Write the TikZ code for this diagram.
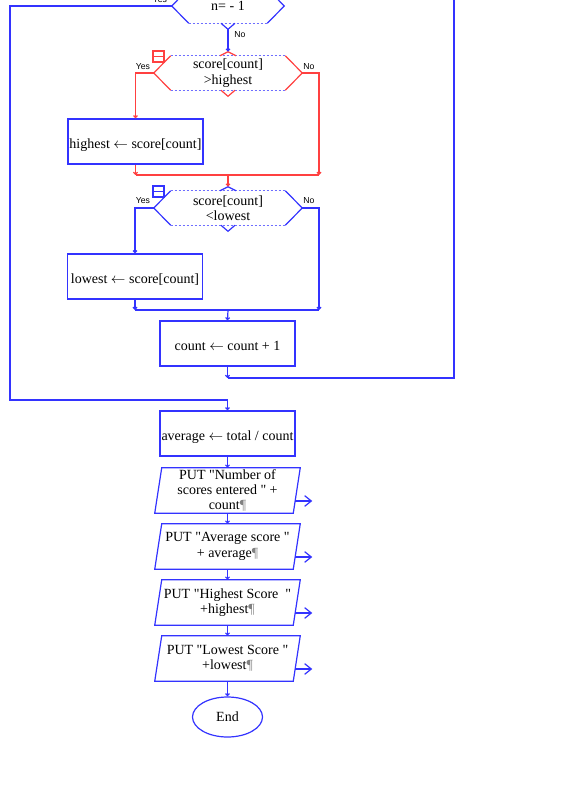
\documentclass[tikz,border=0pt]{standalone}
\usepackage{fontspec}
\setmainfont{Liberation Serif}
\newfontfamily\lblfont{Liberation Sans}
\usetikzlibrary{calc,arrows.meta,shapes.geometric}
\definecolor{fcblue}{RGB}{51,51,255}
\definecolor{fcred}{RGB}{255,64,64}
\definecolor{fcdash}{RGB}{110,110,255}
\newcommand{\dq}{\textquotedbl}
\newcommand{\pil}{{\color{gray}¶}}

\begin{document}
\begin{tikzpicture}[x=0.75pt,y=-0.75pt,
  every node/.style={font=\fontsize{10.5}{11.5}\selectfont},
  box/.style={draw=fcblue, line width=0.9pt, minimum width=101.25pt, minimum height=33.75pt, inner sep=0pt, text height=13pt, text depth=2pt},
  iobox/.style={minimum width=108.75pt, minimum height=33.75pt, inner sep=0pt, align=center},
  decbox/.style={minimum width=111pt, minimum height=25.5pt, inner sep=0pt, align=center},
  lbl/.style={font=\lblfont\fontsize{6.5}{7}\selectfont, inner sep=0pt},
  bline/.style={fcblue, line width=0.9pt},
  rline/.style={fcred, line width=0.9pt},
  flow/.style={bline, -{Straight Barb[length=1.5pt,width=3pt]}},
  rflow/.style={rline, -{Straight Barb[length=1.5pt,width=3pt]}},
  dashedge/.style={fcdash, line width=0.75pt, dash pattern=on 1.5pt off 1.5pt},
  outarr/.style={bline, -{Straight Barb[length=5pt,width=8pt]}}
]
\useasboundingbox (0,0) rectangle (569,793);
\clip (0,0) rectangle (569,793);

% Loop test
\node[decbox, minimum width=84pt] (d1) at (228,6) {n= - 1};
\node[lbl] (yes1) at (160,0) {Yes};
\node[lbl] (no1) at (240,35) {No};

% Highest test
\node[decbox] (d2) at (228,73) {score[count]\\>highest};
\node[lbl] (yes2) at (143,67) {Yes};
\node[lbl] (no2) at (309,67) {No};
\node[box] (hi) at (135.5,141.5) {highest $\leftarrow$ score[count]};

% Lowest test
\node[decbox] (d3) at (228,208) {score[count]\\<lowest};
\node[lbl] (yes3) at (143,201) {Yes};
\node[lbl] (no3) at (309,201) {No};
\node[box] (lo) at (135,276.5) {lowest $\leftarrow$ score[count]};

\node[box] (cnt) at (227.5,343.5) {count $\leftarrow$ count + 1};

% After the loop
\node[box] (avg) at (227.5,433.5) {average $\leftarrow$ total / count};
\node[iobox] (p1) at (227.5,490.5) {PUT \dq Number of\\scores entered \dq{} +\\count\pil};
\node[iobox] (p2) at (227.5,546.5) {PUT \dq Average score \dq\\+ average\pil};
\node[iobox] (p3) at (227.5,602.5) {PUT \dq Highest Score~ \dq\\+highest\pil};
\node[iobox] (p4) at (227.5,658.5) {PUT \dq Lowest Score \dq\\+lowest\pil};
\node[draw=fcblue, line width=0.9pt, ellipse, minimum width=52.5pt, minimum height=30pt, inner sep=0pt] (end) at (227.5,717) {End};

% Decision outlines
\foreach \d/\c in {d1/fcblue,d2/fcred,d3/fcblue} {
  \draw[line width=0.9pt, \c] ($(\d.north west)+(17,0)$) -- (\d.west) -- ($(\d.south west)+(17,0)$);
  \draw[line width=0.9pt, \c] ($(\d.north east)+(-17,0)$) -- (\d.east) -- ($(\d.south east)+(-17,0)$);
  \draw[dashedge] ($(\d.north west)+(17,0)$) -- ($(\d.north east)+(-17,0)$);
  \draw[dashedge] ($(\d.south west)+(17,0)$) -- ($(\d.south east)+(-17,0)$);
  \draw[line width=0.9pt, \c] ($(\d.north)+(-8,0)$) -- ($(\d.north)+(0,-4)$) -- ($(\d.north)+(8,0)$);
  \draw[line width=0.9pt, \c] ($(\d.south)+(-7,0)$) -- ($(\d.south)+(0,6)$) -- ($(\d.south)+(7,0)$);
}
\coordinate (d1b) at ($(d1.south)+(0,6)$);
\coordinate (d2t) at ($(d2.north)+(0,-4)$);
\coordinate (d3t) at ($(d3.north)+(0,-4)$);

% Small icons
\draw[rline] (153,51) rectangle (164,62);
\draw[rline] (153,56.5) -- (164,56.5);
\draw[bline] (153,186) rectangle (164,197);
\draw[bline] (153,191.5) -- (164,191.5);

% Output shapes
\foreach \p in {p1,p2,p3,p4} {
  \draw[bline] ($(\p.north west)+(7,0)$) -- (\p.north east) -- ($(\p.south east)+(-7,0)$) -- (\p.south west) -- cycle;
  \draw[outarr] ($(\p.east)+(-5,10.5)$) -- ++(17,0);
}

% Merge points
\coordinate (m1L) at (135.5,175);
\coordinate (m1R) at (319,175);
\coordinate (m1) at (228,175);
\coordinate (m2L) at (135,310);
\coordinate (m2R) at (319,310);
\coordinate (m2) at (228,310);
\coordinate (loopB) at (227.5,378);
\coordinate (loopT) at (454,-20);
\coordinate (loopL) at (10,400);

% Connectors
\draw[flow] (d1b) -- (d2t);
\draw[rflow] (d2.west) -| (hi.north);
\draw[rflow] (d2.east) -| (m1R);
\draw[rflow] (hi.south) -- (m1L);
\draw[rline] (m1L) -- (m1R);
\draw[rflow] (m1) -- (d3t);
\draw[flow] (d3.west) -| (lo.north);
\draw[flow] (d3.east) -| (m2R);
\draw[flow] (lo.south) -- (m2L);
\draw[bline] (m2L) -- (m2R);
\draw[flow] (m2) -- (cnt.north);
\draw[flow] (cnt.south) -- (loopB);
\draw[bline] (loopB) -| (loopT);
\draw[flow] (d1.west) -| (loopL) -| (avg.north);
\foreach \a/\b in {avg/p1,p1/p2,p2/p3,p3/p4,p4/end}
  \draw[flow] (\a.south) -- (\b.north);
\end{tikzpicture}
\end{document}
